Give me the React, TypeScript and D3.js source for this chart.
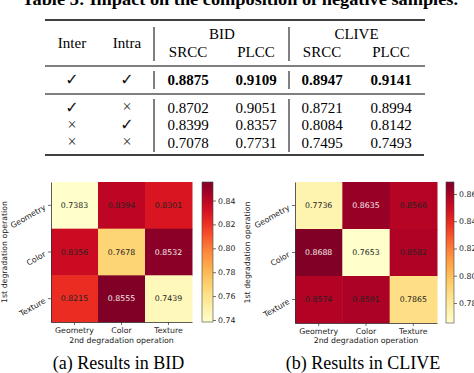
import * as d3 from 'd3';
import { useEffect, useRef } from 'react';

const WIDTH = 474;
const HEIGHT = 373;

// table
const tableTitle = 'Table 3: Impact on the composition of negative samples.';
const flagHeaders = ['Inter', 'Intra'];
const datasets = ['BID', 'CLIVE'];
const metrics = ['SRCC', 'PLCC'];
const interUsed = [true, true, false, false];
const intraUsed = [true, false, true, false];
const bidSrcc = [0.8875, 0.8702, 0.8399, 0.7078];
const bidPlcc = [0.9109, 0.9051, 0.8357, 0.7731];
const cliveSrcc = [0.8947, 0.8721, 0.8084, 0.7495];
const clivePlcc = [0.9141, 0.8994, 0.8142, 0.7493];

// heatmaps
const operations = ['Geometry', 'Color', 'Texture'];
const bidMatrix = [
  [0.7383, 0.8394, 0.8301],
  [0.8356, 0.7678, 0.8532],
  [0.8215, 0.8555, 0.7439],
];
const cliveMatrix = [
  [0.7736, 0.8635, 0.8566],
  [0.8688, 0.7653, 0.8582],
  [0.8574, 0.8591, 0.7865],
];
const bidTicks = [0.74, 0.76, 0.78, 0.8, 0.82, 0.84];
const cliveTicks = [0.78, 0.8, 0.82, 0.84, 0.86];

const SERIF = '"Liberation Serif", "Times New Roman", serif';
const SANS = '"DejaVu Sans", sans-serif';
const INK = '#222';

interface PanelOpts {
  id: string;
  matrix: number[][];
  ticks: number[];
  left: number;
  right: number;
  top: number;
  bottom: number;
  cbLeft: number;
  cbRight: number;
  ylabelX: number;
  caption: string;
}

function drawTable(svg: d3.Selection<SVGSVGElement, unknown, null, undefined>) {
  const g = svg.append('g');

  g.append('text')
    .attr('x', 22)
    .attr('y', 5)
    .attr('font-family', SERIF)
    .attr('font-weight', 'bold')
    .attr('font-size', 16)
    .attr('textLength', 436)
    .attr('lengthAdjust', 'spacingAndGlyphs')
    .attr('fill', '#000')
    .text(tableTitle);

  const colKeys = ['inter', 'intra', 'bidSrcc', 'bidPlcc', 'cliveSrcc', 'clivePlcc'];
  const colX = d3.scaleOrdinal<string, number>().domain(colKeys).range([72, 127, 188, 256, 322, 391]);
  const rowY = (i: number) => (i === 0 ? 85 : 95 + i * 17.5);

  // rules
  const rules = [
    { y: 20, w: 1.4, x2: 425 },
    { y: 66, w: 1, x2: 425 },
    { y: 94, w: 1, x2: 425 },
    { y: 155, w: 1.4, x2: 424 },
  ];
  rules.forEach((r) =>
    g.append('line')
      .attr('x1', 45).attr('x2', r.x2)
      .attr('y1', r.y).attr('y2', r.y)
      .attr('stroke', '#000').attr('stroke-width', r.w)
  );
  const vSegments = [[27, 61], [71, 89], [99, 152]];
  [154, 289].forEach((vx) =>
    vSegments.forEach(([a, b]) =>
      g.append('line')
        .attr('x1', vx).attr('x2', vx)
        .attr('y1', a).attr('y2', b)
        .attr('stroke', '#000').attr('stroke-width', 1)
    )
  );

  const text = (x: number, y: number, s: string, bold = false) =>
    g.append('text')
      .attr('x', x).attr('y', y)
      .attr('text-anchor', 'middle')
      .attr('font-family', SERIF)
      .attr('font-size', 15)
      .attr('font-weight', bold ? 'bold' : 'normal')
      .attr('fill', '#000')
      .text(s);

  // header
  text(colX('inter'), 48, flagHeaders[0]);
  text(colX('intra'), 48, flagHeaders[1]);
  text((colX('bidSrcc') + colX('bidPlcc')) / 2, 39, datasets[0]);
  text((colX('cliveSrcc') + colX('clivePlcc')) / 2, 39, datasets[1]);
  ['bid', 'clive'].forEach((d) => {
    text(colX(`${d}Srcc`), 57, metrics[0]);
    text(colX(`${d}Plcc`), 57, metrics[1]);
  });

  // body
  const flag = (x: number, y: number, ok: boolean) =>
    g.append('text')
      .attr('x', x).attr('y', ok ? y : y - 0.5)
      .attr('text-anchor', 'middle')
      .attr('font-family', ok ? SANS : SERIF)
      .attr('font-size', ok ? 16 : 16)
      .attr('fill', ok ? '#111' : '#333')
      .text(ok ? '\u2713' : '\u00d7');
  interUsed.forEach((_, i) => {
    const y = rowY(i);
    const bold = i === 0;
    flag(colX('inter'), y, interUsed[i]);
    flag(colX('intra'), y, intraUsed[i]);
    text(colX('bidSrcc'), y, bidSrcc[i].toFixed(4), bold);
    text(colX('bidPlcc'), y, bidPlcc[i].toFixed(4), bold);
    text(colX('cliveSrcc'), y, cliveSrcc[i].toFixed(4), bold);
    text(colX('clivePlcc'), y, clivePlcc[i].toFixed(4), bold);
  });
}

function drawHeatmap(svg: d3.Selection<SVGSVGElement, unknown, null, undefined>, o: PanelOpts) {
  const x = d3.scaleBand<string>().domain(operations).range([o.left, o.right]);
  const y = d3.scaleBand<string>().domain(operations).range([o.top, o.bottom]);
  const flat = o.matrix.flat();
  const lo = d3.min(flat) as number;
  const hi = d3.max(flat) as number;
  const color = d3.scaleSequential(d3.interpolateYlOrRd).domain([lo, hi]);
  const g = svg.append('g');

  // cells
  o.matrix.forEach((row, i) =>
    row.forEach((v, j) => {
      const cx = x(operations[j]) as number;
      const cy = y(operations[i]) as number;
      g.append('rect')
        .attr('x', cx).attr('y', cy)
        .attr('width', x.bandwidth() + 0.5)
        .attr('height', y.bandwidth() + 0.5)
        .attr('fill', color(v));
      const dark = (v - lo) / (hi - lo) > 0.93;
      g.append('text')
        .attr('x', cx + x.bandwidth() / 2)
        .attr('y', cy + y.bandwidth() / 2)
        .attr('dy', '0.35em')
        .attr('text-anchor', 'middle')
        .attr('font-family', SANS)
        .attr('font-size', 7.8)
        .attr('fill', dark ? '#f6eaea' : INK)
        .text(v.toFixed(4));
    })
  );

  // axes
  const yAxis = g.append('g')
    .attr('transform', `translate(${o.left},0)`)
    .call(d3.axisLeft(y).tickSize(3).tickSizeOuter(0).tickPadding(3));
  const xAxis = g.append('g')
    .attr('transform', `translate(0,${o.bottom})`)
    .call(d3.axisBottom(x).tickSize(3).tickSizeOuter(0).tickPadding(2));
  [yAxis, xAxis].forEach((a) => {
    a.attr('font-family', SANS).attr('font-size', 7.8);
    a.select('.domain').attr('stroke', '#333').attr('stroke-width', 0.8);
    a.selectAll('.tick line').attr('stroke', '#333').attr('stroke-width', 0.7);
    a.selectAll('.tick text').attr('fill', INK);
  });
  yAxis.selectAll('.tick text')
    .attr('transform', 'rotate(-30)')
    .attr('dy', '0.1em');

  // colorbar
  const gradId = `cb-${o.id}`;
  const grad = svg.append('defs').append('linearGradient')
    .attr('id', gradId)
    .attr('x1', 0).attr('y1', 1).attr('x2', 0).attr('y2', 0);
  d3.range(0, 1.0001, 0.1).forEach((t) =>
    grad.append('stop')
      .attr('offset', `${t * 100}%`)
      .attr('stop-color', d3.interpolateYlOrRd(t))
  );
  g.append('rect')
    .attr('x', o.cbLeft).attr('y', o.top)
    .attr('width', o.cbRight - o.cbLeft)
    .attr('height', o.bottom - o.top)
    .attr('fill', `url(#${gradId})`)
    .attr('stroke', '#444')
    .attr('stroke-width', 0.6);
  const cb = d3.scaleLinear().domain([lo, hi]).range([o.bottom, o.top]);
  const cbAxis = g.append('g')
    .attr('transform', `translate(${o.cbRight},0)`)
    .call(
      d3.axisRight(cb)
        .tickValues(o.ticks)
        .tickFormat(d3.format('.2f'))
        .tickSize(3)
        .tickSizeOuter(0)
        .tickPadding(2)
    );
  cbAxis.attr('font-family', SANS).attr('font-size', 7.8);
  cbAxis.select('.domain').remove();
  cbAxis.selectAll('.tick line').attr('stroke', '#333').attr('stroke-width', 0.7);
  cbAxis.selectAll('.tick text').attr('fill', INK);

  // labels
  const midY = (o.top + o.bottom) / 2;
  const midX = (o.left + o.right) / 2;
  g.append('text')
    .attr('transform', `translate(${o.ylabelX},${midY}) rotate(-90)`)
    .attr('text-anchor', 'middle')
    .attr('font-family', SANS)
    .attr('font-size', 7.8)
    .attr('fill', INK)
    .text('1st degradation operation');
  g.append('text')
    .attr('x', midX)
    .attr('y', 343)
    .attr('text-anchor', 'middle')
    .attr('font-family', SANS)
    .attr('font-size', 7.8)
    .attr('fill', INK)
    .text('2nd degradation operation');
  g.append('text')
    .attr('x', midX - 3)
    .attr('y', 369)
    .attr('text-anchor', 'middle')
    .attr('font-family', SERIF)
    .attr('font-size', 18)
    .attr('fill', '#000')
    .text(o.caption);
}

export default function App() {
  const svgRef = useRef<SVGSVGElement>(null);

  useEffect(() => {
    if (!svgRef.current) return;
    const svg = d3.select(svgRef.current);
    svg.selectAll('*').remove();

    drawTable(svg);
    drawHeatmap(svg, {
      id: 'bid',
      matrix: bidMatrix,
      ticks: bidTicks,
      left: 51,
      right: 192,
      top: 182,
      bottom: 322,
      cbLeft: 202,
      cbRight: 213,
      ylabelX: 7,
      caption: '(a) Results in BID',
    });
    drawHeatmap(svg, {
      id: 'clive',
      matrix: cliveMatrix,
      ticks: cliveTicks,
      left: 295,
      right: 437,
      top: 182,
      bottom: 323,
      cbLeft: 446,
      cbRight: 454,
      ylabelX: 250,
      caption: '(b) Results in CLIVE',
    });
  }, []);

  return (
    <svg
      ref={svgRef}
      width={WIDTH}
      height={HEIGHT}
      viewBox={`0 0 ${WIDTH} ${HEIGHT}`}
      style={{ position: 'absolute', left: 0, top: 0, background: '#fff' }}
    />
  );
}
